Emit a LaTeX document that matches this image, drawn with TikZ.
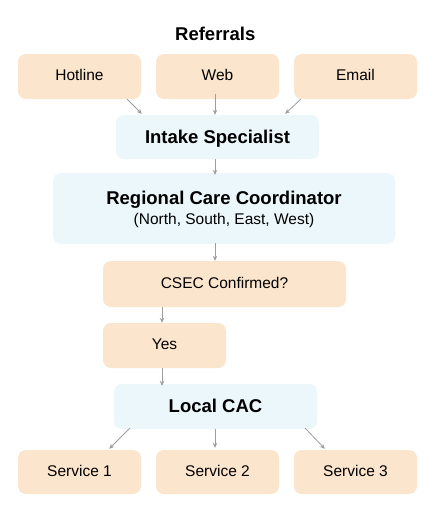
\documentclass[tikz,border=0pt]{standalone}
\usepackage{fontspec}
\setmainfont{Liberation Sans}
\usetikzlibrary{arrows.meta}
\definecolor{orfill}{HTML}{FCE5CD}
\definecolor{blfill}{HTML}{ECF7FC}
\definecolor{arrgray}{HTML}{9E9E9E}
\tikzset{
  obox/.style={fill=orfill, rounded corners=8pt, minimum width=123pt, minimum height=45pt, inner sep=0pt,
    font=\fontsize{15.5}{18}\selectfont, text height=12pt, text depth=3.4pt},
  bbox/.style={fill=blfill, rounded corners=8pt, inner sep=0pt,
    font=\bfseries\fontsize{18.5}{22}\selectfont, text height=13pt, text depth=0.6pt},
  boldtxt/.style={anchor=base, inner sep=0pt, font=\bfseries\fontsize{18.5}{22}\selectfont},
  normtxt/.style={anchor=base, inner sep=0pt, font=\fontsize{15.5}{18}\selectfont},
  arr/.style={draw=arrgray, line width=0.8pt, -{Stealth[length=5pt,width=4.5pt]}},
}
\begin{document}
\begin{tikzpicture}[x=1pt,y=-1pt]
\useasboundingbox[fill=white] (0,0) rectangle (440,512);
\node[boldtxt] (ref) at (215.3,40.7) {Referrals};
\node[obox] (hot) at (79.5,76.5) {Hotline};
\node[obox] (web) at (217.5,76.5) {Web};
\node[obox] (email) at (355.5,76.5) {Email};
\node[bbox, minimum width=203pt, minimum height=44pt] (intake) at (217.5,137) {Intake Specialist};
\node[bbox, minimum width=342pt, minimum height=71pt] (reg) at (224,208.5) {};
\node[boldtxt] (regt) at (224,204) {Regional Care Coordinator};
\node[normtxt] (regs) at (224,224.5) {(North, South, East, West)};
\node[obox, minimum width=243pt, minimum height=46pt] (csec) at (224.5,284) {CSEC Confirmed?};
\node[obox] (yes) at (164.5,345.5) {Yes};
\node[bbox, minimum width=203pt, minimum height=45pt] (cac) at (215.5,406.5) {Local CAC};
\node[obox, minimum height=44pt] (s1) at (79.5,472) {Service 1};
\node[obox, minimum height=44pt] (s2) at (217.5,472) {Service 2};
\node[obox, minimum height=44pt] (s3) at (355.5,472) {Service 3};
\draw[arr] ([xshift=-14pt]hot.south east) -- ([xshift=26pt,yshift=1pt]intake.north west);
\draw[arr] ([xshift=-2.5pt,yshift=5pt]web.south) -- ([xshift=-2.5pt]intake.north);
\draw[arr] ([xshift=7pt]email.south west) -- ([xshift=-34pt,yshift=1pt]intake.north east);
\draw[arr] ([xshift=-2.5pt]intake.south) -- ([xshift=-9pt,yshift=-2pt]reg.north);
\draw[arr] ([xshift=-9pt,yshift=1pt]reg.south) -- ([xshift=-9.5pt]csec.north);
\draw[arr] ([xshift=-62.5pt]csec.south) -- ([xshift=-2.5pt]yes.north);
\draw[arr] ([xshift=-2.5pt]yes.south) -- ([xshift=-53.5pt,yshift=-2pt]cac.north);
\draw[arr] ([xshift=16pt,yshift=1pt]cac.south west) -- ([xshift=-32pt,yshift=1pt]s1.north east);
\draw[arr] ([xshift=-0.5pt]cac.south) -- ([xshift=-2.5pt,yshift=2pt]s2.north);
\draw[arr] ([xshift=-12pt,yshift=1pt]cac.south east) -- ([xshift=31pt,yshift=1pt]s3.north west);
\end{tikzpicture}
\end{document}
